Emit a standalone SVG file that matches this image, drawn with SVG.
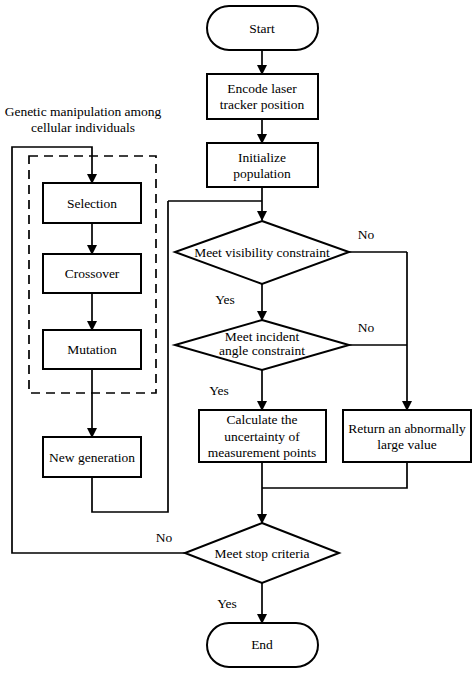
<svg xmlns="http://www.w3.org/2000/svg" width="474" height="673" viewBox="0 0 474 673" font-family="'Liberation Serif', 'DejaVu Serif', serif" font-size="13.5">
<style>
.n{fill:#fff;stroke:#000;stroke-width:2}
.c{fill:none;stroke:#000;stroke-width:1.7}
.a{fill:none;stroke:#000;stroke-width:1.7;marker-end:url(#ah)}
text{font-family:'Liberation Serif','DejaVu Serif',serif;font-size:13.5px;fill:#000;text-anchor:middle;dominant-baseline:central}
</style>
<defs>
<marker id="ah" markerWidth="10" markerHeight="10" refX="9" refY="5" orient="auto" markerUnits="userSpaceOnUse">
<path d="M0,0 L10,5 L0,10 Z" fill="#000"/>
</marker>
</defs>
<rect width="474" height="673" fill="#fff"/>
<g id="connectors">
<path class="a" d="M262,50 V74"/>
<path class="a" d="M262,119 V143"/>
<path class="a" d="M262,187 V220"/>
<path class="c" d="M168,201 H262"/>
<path class="a" d="M262,284 V320"/>
<path class="a" d="M262,370 V410"/>
<path class="c" d="M349,252 H407"/>
<path class="c" d="M349,345 H407"/>
<path class="a" d="M407,252 V410"/>
<path class="c" d="M262,462 V488"/>
<path class="c" d="M407,462 V488 H262"/>
<path class="a" d="M262,488 V523"/>
<path class="a" d="M262,583 V623"/>
<path class="a" d="M185,553 H12 V147 H92 V183"/>
<path class="a" d="M92,223 V254"/>
<path class="a" d="M92,293 V330"/>
<path class="a" d="M92,369 V437"/>
<path class="c" d="M92,477 V512 H168 V201"/>
<text x="366" y="234">No</text>
<text x="366" y="327">No</text>
<text x="225" y="299">Yes</text>
<text x="219" y="390">Yes</text>
<text x="164" y="537">No</text>
<text x="227" y="603">Yes</text>
</g>
<g id="start"><rect class="n" x="207" y="6" width="111" height="44" rx="22"/><text x="262" y="28">Start</text></g>
<g id="encode"><rect class="n" x="207" y="74" width="111" height="45"/><text x="262" y="88">Encode laser</text><text x="262" y="104">tracker position</text></g>
<g id="init"><rect class="n" x="207" y="143" width="111" height="44"/><text x="262" y="157">Initialize</text><text x="262" y="173">population</text></g>
<g id="visibility"><polygon class="n" points="262,221 349,252 262,284 175,252"/><text x="262" y="252">Meet visibility constraint</text></g>
<g id="incident"><polygon class="n" points="262,320 349,345 262,370 175,345"/><text x="262" y="336">Meet incident</text><text x="262" y="350">angle constraint</text></g>
<g id="calc"><rect class="n" x="199" y="410" width="127" height="52"/><text x="262" y="419">Calculate the</text><text x="262" y="436">uncertainty of</text><text x="262" y="452">measurement points</text></g>
<g id="return"><rect class="n" x="343" y="410" width="128" height="52"/><text x="407" y="428">Return an abnormally</text><text x="407" y="444">large value</text></g>
<g id="stop"><polygon class="n" points="262,523 339,553 262,583 185,553"/><text x="262" y="553">Meet stop criteria</text></g>
<g id="end"><rect class="n" x="207" y="623" width="111" height="44" rx="22"/><text x="262" y="644">End</text></g>
<g id="genetic">
<rect x="29" y="156" width="127" height="237" fill="none" stroke="#000" stroke-width="1.7" stroke-dasharray="9,6"/>
<text x="83" y="111">Genetic manipulation among</text>
<text x="83" y="127">cellular individuals</text>
</g>
<g id="selection"><rect class="n" x="43" y="183" width="98" height="40"/><text x="92" y="203">Selection</text></g>
<g id="crossover"><rect class="n" x="43" y="254" width="98" height="39"/><text x="92" y="273">Crossover</text></g>
<g id="mutation"><rect class="n" x="43" y="330" width="98" height="39"/><text x="92" y="349">Mutation</text></g>
<g id="newgen"><rect class="n" x="43" y="437" width="98" height="40"/><text x="92" y="457">New generation</text></g>
</svg>
